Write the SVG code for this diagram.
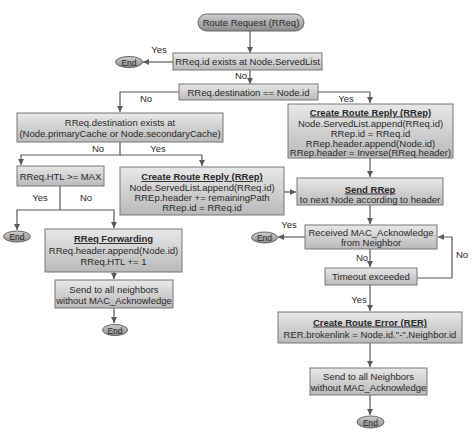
<svg xmlns="http://www.w3.org/2000/svg" width="474" height="440" viewBox="0 0 474 440">
<style>
.bx{fill:url(#gb);stroke:#767676;stroke-width:1}
.pl{fill:url(#gp);stroke:#666;stroke-width:1}
.t{font-family:"Liberation Sans",Arial,sans-serif;font-size:9.5px;fill:#2a2a2a;text-anchor:middle}
.h{font-weight:bold;text-decoration:underline}
.lb{font-family:"Liberation Sans",Arial,sans-serif;font-size:9.5px;fill:#2a2a2a;text-anchor:middle}
.c{fill:none;stroke:#5a5a5a;stroke-width:1.2;marker-end:url(#ar)}
</style>
<defs>
<linearGradient id="gb" x1="0" y1="0" x2="0" y2="1">
<stop offset="0" stop-color="#e8e8e8"/><stop offset="1" stop-color="#b9b9b9"/>
</linearGradient>
<linearGradient id="gp" x1="0" y1="0" x2="0" y2="1">
<stop offset="0" stop-color="#d0d0d0"/><stop offset="1" stop-color="#8a8a8a"/>
</linearGradient>
<marker id="ar" viewBox="0 0 10 10" refX="10" refY="5" markerWidth="6" markerHeight="6" markerUnits="userSpaceOnUse" orient="auto">
<path d="M0,0 L10,5 L0,10 z" fill="#5a5a5a"/>
</marker>
</defs>
<rect width="474" height="440" fill="#fff"/>

<g id="connectors">
<path class="c" d="M250,31 V53"/>
<path class="c" d="M173,62 H143"/>
<path class="c" d="M250,70 V84"/>
<path class="c" d="M179,92 H120 V112"/>
<path class="c" d="M318,92 H370 V103"/>
<path class="c" d="M120,142 V155 H21 V165"/>
<path class="c" d="M120,155 H202 V166"/>
<path class="c" d="M284,192 H296"/>
<path class="c" d="M60,186 V210 H17 V230"/>
<path class="c" d="M60,210 H114 V228"/>
<path class="c" d="M114,272 V279"/>
<path class="c" d="M114,308 V323"/>
<path class="c" d="M370,158 V177"/>
<path class="c" d="M370,205 V224"/>
<path class="c" d="M305,237 H278"/>
<path class="c" d="M370,249 V267"/>
<path class="c" d="M417,278 H452 V237 H438"/>
<path class="c" d="M370,285 V311"/>
<path class="c" d="M370,343 V367"/>
<path class="c" d="M370,395 V415"/>
<text class="lb" x="159" y="53">Yes</text>
<text class="lb" x="241" y="79">No</text>
<text class="lb" x="146" y="102">No</text>
<text class="lb" x="346" y="102">Yes</text>
<text class="lb" x="98" y="152">No</text>
<text class="lb" x="158" y="152">Yes</text>
<text class="lb" x="40" y="201">Yes</text>
<text class="lb" x="86" y="201">No</text>
<text class="lb" x="289" y="228">Yes</text>
<text class="lb" x="362" y="261">No</text>
<text class="lb" x="462" y="258">No</text>
<text class="lb" x="359" y="303">Yes</text>
</g>

<g id="start">
<rect class="pl" x="198" y="14" width="106" height="17" rx="8.5"/>
<text class="t" x="251" y="26">Route Request (RReq)</text>
</g>
<g id="servedlist">
<rect class="bx" x="173" y="53" width="149" height="17"/>
<text class="t" x="247.5" y="65">RReq.id exists at Node.ServedList</text>
</g>
<g id="end1">
<ellipse class="pl" cx="129" cy="62" rx="13.5" ry="5.5"/>
<text class="t" x="129" y="65.5" style="font-size:8.5px">End</text>
</g>
<g id="destination">
<rect class="bx" x="179" y="84" width="139" height="16"/>
<text class="t" x="248.5" y="95.5">RReq.destination == Node.id</text>
</g>
<g id="cache">
<rect class="bx" x="17" y="113" width="206" height="29"/>
<text class="t" x="120" y="126">RReq.destination exists at</text>
<text class="t" x="120" y="137">(Node.primaryCache or Node.secondaryCache)</text>
</g>
<g id="htl">
<rect class="bx" x="17" y="166" width="87" height="20"/>
<text class="t" x="60.5" y="179.5">RReq.HTL &gt;= MAX</text>
</g>
<g id="rrep-mid">
<rect class="bx" x="120" y="167" width="164" height="48"/>
<text class="t h" x="202" y="180">Create Route Reply (RRep)</text>
<text class="t" x="202" y="190.5">Node.ServedList.append(RReq.id)</text>
<text class="t" x="202" y="200.5">RREp.header += remainingPath</text>
<text class="t" x="202" y="210.5">RRep.id = RReq.id</text>
</g>
<g id="end2">
<ellipse class="pl" cx="17" cy="236.5" rx="13.5" ry="5.5"/>
<text class="t" x="17" y="240" style="font-size:8.5px">End</text>
</g>
<g id="forwarding">
<rect class="bx" x="45" y="229" width="137" height="43"/>
<text class="t h" x="113.5" y="242">RReq Forwarding</text>
<text class="t" x="113.5" y="253.5">RReq.header.append(Node.id)</text>
<text class="t" x="113.5" y="265">RReq.HTL += 1</text>
</g>
<g id="send-left">
<rect class="bx" x="55" y="280" width="118" height="28"/>
<text class="t" x="114" y="292.5">Send to all neighbors</text>
<text class="t" x="114" y="303.5">without MAC_Acknowledge</text>
</g>
<g id="end3">
<ellipse class="pl" cx="115" cy="330" rx="12.5" ry="5.5"/>
<text class="t" x="115" y="333.5" style="font-size:8.5px">End</text>
</g>
<g id="rrep-right">
<rect class="bx" x="288" y="104" width="165" height="54"/>
<text class="t h" x="370.5" y="115.5">Create Route Reply (RRep)</text>
<text class="t" x="370.5" y="126.5">Node.ServedList.append(RReq.id)</text>
<text class="t" x="370.5" y="136.5">RRep.id = RReq.id</text>
<text class="t" x="370.5" y="146.5">RRep.header.append(Node.id)</text>
<text class="t" x="370.5" y="156">RRep.header = Inverse(RReq.header)</text>
</g>
<g id="send-rrep">
<rect class="bx" x="297" y="178" width="146" height="27"/>
<text class="t h" x="370" y="192.5">Send RRep</text>
<text class="t" x="370" y="203">to next Node according to header</text>
</g>
<g id="mac-ack">
<rect class="bx" x="305" y="225" width="132" height="24"/>
<text class="t" x="371" y="235.5">Received MAC_Acknowledge</text>
<text class="t" x="371" y="246">from Neighbor</text>
</g>
<g id="end4">
<ellipse class="pl" cx="264.5" cy="237.5" rx="13" ry="5.5"/>
<text class="t" x="264.5" y="241" style="font-size:8.5px">End</text>
</g>
<g id="timeout">
<rect class="bx" x="325" y="268" width="92" height="17"/>
<text class="t" x="371" y="280">Timeout exceeded</text>
</g>
<g id="rer">
<rect class="bx" x="278" y="312" width="184" height="31"/>
<text class="t h" x="370" y="325.5">Create Route Error (RER)</text>
<text class="t" x="370" y="337.5">RER.brokenlink = Node.id."-".Neighbor.id</text>
</g>
<g id="send-right">
<rect class="bx" x="310" y="368" width="117" height="27"/>
<text class="t" x="368.5" y="380">Send to all Neighbors</text>
<text class="t" x="368.5" y="391">without MAC_Acknowledge</text>
</g>
<g id="end5">
<ellipse class="pl" cx="370.5" cy="422" rx="13.5" ry="6"/>
<text class="t" x="370.5" y="425.5" style="font-size:8.5px">End</text>
</g>
</svg>
